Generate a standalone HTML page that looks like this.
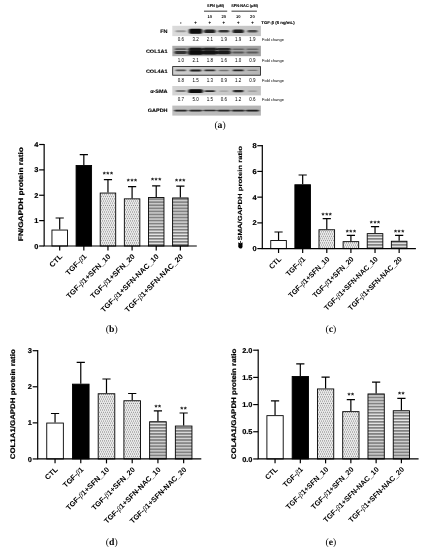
<!DOCTYPE html>
<html><head><meta charset="utf-8"><title>Figure</title>
<style>
html,body{margin:0;padding:0;background:#fff;}
svg{display:block}
text{font-family:"Liberation Sans",sans-serif;fill:#000;text-rendering:geometricPrecision}
.b{font-weight:bold}
.k2{stroke:#000;stroke-width:0.1px}
.n{text-rendering:auto}
.k{stroke:#000;stroke-width:0.22px;stroke-linejoin:round}
.ser{font-family:"Liberation Serif",serif}
</style></head><body>
<svg width="424" height="550" viewBox="0 0 424 550">
<defs>
<pattern id="dots" width="2" height="4.4" patternUnits="userSpaceOnUse"><rect width="2" height="4.4" fill="#ebebeb"/><rect x="0" y="0.3" width="1" height="1.1" fill="#8e8e8e"/><rect x="1" y="2.5" width="1" height="1.1" fill="#8e8e8e"/></pattern>
<pattern id="hs" width="4" height="3.05" patternUnits="userSpaceOnUse"><rect width="4" height="3.05" fill="#e8e8e8"/><rect y="0" width="4" height="1.9" fill="#828282"/></pattern>
<filter id="bl" x="-5%" y="-50%" width="110%" height="200%"><feGaussianBlur stdDeviation="0.9 0.55"/></filter>
</defs>
<rect width="424" height="550" fill="#fff"/>

<g id="pa">
<text class="b k2" transform="translate(215.6 6.9) scale(1.0 1)" font-size="3.9" text-anchor="middle" fill="#000">SFN (μM)</text>
<text class="b k2" transform="translate(244.6 6.9) scale(1.0 1)" font-size="3.9" text-anchor="middle" fill="#000">SFN-NAC (μM)</text>
<rect x="204.0" y="10.7" width="23.2" height="0.9" fill="#222"/>
<rect x="231.5" y="10.7" width="25.4" height="0.9" fill="#222"/>
<text class="b" transform="translate(209.8 17.9) scale(1.0 1)" font-size="4.1" text-anchor="middle" fill="#000">10</text>
<text class="b" transform="translate(223.8 17.9) scale(1.0 1)" font-size="4.1" text-anchor="middle" fill="#000">20</text>
<text class="b" transform="translate(238.2 17.9) scale(1.0 1)" font-size="4.1" text-anchor="middle" fill="#000">10</text>
<text class="b" transform="translate(252.4 17.9) scale(1.0 1)" font-size="4.1" text-anchor="middle" fill="#000">20</text>
<text class="b k2" transform="translate(180.8 23.8) scale(1.0 1)" font-size="4.3" text-anchor="middle" fill="#000">-</text>
<text class="b k2" transform="translate(195.6 23.8) scale(1.0 1)" font-size="4.3" text-anchor="middle" fill="#000">+</text>
<text class="b k2" transform="translate(209.8 23.8) scale(1.0 1)" font-size="4.3" text-anchor="middle" fill="#000">+</text>
<text class="b k2" transform="translate(223.8 23.8) scale(1.0 1)" font-size="4.3" text-anchor="middle" fill="#000">+</text>
<text class="b k2" transform="translate(238.2 23.8) scale(1.0 1)" font-size="4.3" text-anchor="middle" fill="#000">+</text>
<text class="b k2" transform="translate(252.4 23.8) scale(1.0 1)" font-size="4.3" text-anchor="middle" fill="#000">+</text>
<text class="b k2" transform="translate(261.3 23.9) scale(1.08 1)" font-size="4.0" text-anchor="start" fill="#000">TGF-β (5 ng/mL)</text>
<text class="b k2" transform="translate(167.6 33.35) scale(1.1 1)" font-size="5.0" text-anchor="end" fill="#000">FN</text>
<linearGradient id="sg0" x1="0" x2="1" y1="0" y2="0"><stop offset="0" stop-color="#dbdbdb"/><stop offset="1" stop-color="#c2c2c2"/></linearGradient>
<rect x="172.3" y="25.8" width="88.6" height="10.3" fill="url(#sg0)"/>
<clipPath id="cp0"><rect x="172.3" y="25.8" width="88.6" height="10.3"/></clipPath>
<g clip-path="url(#cp0)"><g filter="url(#bl)">
<rect x="175.55" y="30.15" width="10.50" height="2.20" rx="1.10" fill="#080808" opacity="0.3"/>
<rect x="188.90" y="28.85" width="13.40" height="4.80" rx="1.60" fill="#080808" opacity="1.0"/>
<rect x="204.10" y="29.50" width="11.40" height="3.50" rx="1.60" fill="#080808" opacity="0.9"/>
<rect x="218.50" y="29.95" width="10.60" height="2.60" rx="1.30" fill="#080808" opacity="0.75"/>
<rect x="232.60" y="29.50" width="11.20" height="3.50" rx="1.60" fill="#080808" opacity="0.9"/>
<rect x="247.40" y="30.00" width="10.00" height="2.50" rx="1.25" fill="#080808" opacity="0.62"/>
</g></g>
<text class="n" transform="translate(180.8 41.0) scale(1.0 1)" font-size="4.5" text-anchor="middle" fill="#222">0.6</text>
<text class="n" transform="translate(195.6 41.0) scale(1.0 1)" font-size="4.5" text-anchor="middle" fill="#222">3.2</text>
<text class="n" transform="translate(209.8 41.0) scale(1.0 1)" font-size="4.5" text-anchor="middle" fill="#222">2.1</text>
<text class="n" transform="translate(223.8 41.0) scale(1.0 1)" font-size="4.5" text-anchor="middle" fill="#222">1.9</text>
<text class="n" transform="translate(238.2 41.0) scale(1.0 1)" font-size="4.5" text-anchor="middle" fill="#222">1.9</text>
<text class="n" transform="translate(252.4 41.0) scale(1.0 1)" font-size="4.5" text-anchor="middle" fill="#222">1.9</text>
<text class="n" transform="translate(262.0 41.0) scale(1.0 1)" font-size="4.0" text-anchor="start" fill="#222">Fold change</text>
<text class="b k2" transform="translate(167.6 52.8) scale(1.1 1)" font-size="5.0" text-anchor="end" fill="#000">COL1A1</text>
<linearGradient id="sg1" x1="0" x2="1" y1="0" y2="0"><stop offset="0" stop-color="#adadad"/><stop offset="1" stop-color="#a2a2a2"/></linearGradient>
<rect x="172.3" y="45.8" width="88.6" height="10.4" fill="url(#sg1)"/>
<clipPath id="cp1"><rect x="172.3" y="45.8" width="88.6" height="10.4"/></clipPath>
<g clip-path="url(#cp1)"><g filter="url(#bl)">
<rect x="174.80" y="48.30" width="12.00" height="1.80" rx="0.90" fill="#080808" opacity="0.5"/>
<rect x="188.50" y="47.70" width="14.20" height="3.00" rx="1.50" fill="#080808" opacity="0.95"/>
<rect x="202.80" y="47.80" width="14.00" height="2.80" rx="1.40" fill="#080808" opacity="0.9"/>
<rect x="217.10" y="47.95" width="13.40" height="2.50" rx="1.25" fill="#080808" opacity="0.85"/>
<rect x="232.20" y="48.45" width="12.00" height="1.50" rx="0.75" fill="#080808" opacity="0.4"/>
<rect x="246.40" y="48.45" width="12.00" height="1.50" rx="0.75" fill="#080808" opacity="0.36"/>
<rect x="174.55" y="51.10" width="12.50" height="2.80" rx="1.40" fill="#080808" opacity="0.7"/>
<rect x="188.30" y="50.20" width="14.60" height="4.60" rx="1.60" fill="#080808" opacity="1.0"/>
<rect x="202.60" y="50.50" width="14.40" height="4.00" rx="1.60" fill="#080808" opacity="0.97"/>
<rect x="216.90" y="50.80" width="13.80" height="3.40" rx="1.60" fill="#080808" opacity="0.92"/>
<rect x="232.20" y="51.55" width="12.00" height="1.90" rx="0.95" fill="#080808" opacity="0.48"/>
<rect x="246.40" y="51.55" width="12.00" height="1.90" rx="0.95" fill="#080808" opacity="0.45"/>
</g></g>
<text class="n" transform="translate(180.8 61.6) scale(1.0 1)" font-size="4.5" text-anchor="middle" fill="#222">1.0</text>
<text class="n" transform="translate(195.6 61.6) scale(1.0 1)" font-size="4.5" text-anchor="middle" fill="#222">2.1</text>
<text class="n" transform="translate(209.8 61.6) scale(1.0 1)" font-size="4.5" text-anchor="middle" fill="#222">1.8</text>
<text class="n" transform="translate(223.8 61.6) scale(1.0 1)" font-size="4.5" text-anchor="middle" fill="#222">1.6</text>
<text class="n" transform="translate(238.2 61.6) scale(1.0 1)" font-size="4.5" text-anchor="middle" fill="#222">1.0</text>
<text class="n" transform="translate(252.4 61.6) scale(1.0 1)" font-size="4.5" text-anchor="middle" fill="#222">0.9</text>
<text class="n" transform="translate(262.0 61.6) scale(1.0 1)" font-size="4.0" text-anchor="start" fill="#222">Fold change</text>
<text class="b k2" transform="translate(167.6 72.7) scale(1.1 1)" font-size="5.0" text-anchor="end" fill="#000">COL4A1</text>
<linearGradient id="sg2" x1="0" x2="1" y1="0" y2="0"><stop offset="0" stop-color="#cfcfcf"/><stop offset="1" stop-color="#b6b6b6"/></linearGradient>
<rect x="172.3" y="66.2" width="88.6" height="9.4" fill="url(#sg2)"/>
<clipPath id="cp2"><rect x="172.3" y="66.2" width="88.6" height="9.4"/></clipPath>
<g clip-path="url(#cp2)"><g filter="url(#bl)">
<rect x="175.55" y="69.60" width="10.50" height="1.60" rx="0.80" fill="#080808" opacity="0.6"/>
<rect x="189.85" y="69.40" width="11.50" height="2.00" rx="1.00" fill="#080808" opacity="0.9"/>
<rect x="204.30" y="69.55" width="11.00" height="1.70" rx="0.85" fill="#080808" opacity="0.75"/>
<rect x="218.80" y="69.65" width="10.00" height="1.50" rx="0.75" fill="#080808" opacity="0.4"/>
<rect x="232.70" y="69.50" width="11.00" height="1.80" rx="0.90" fill="#080808" opacity="0.8"/>
<rect x="247.40" y="69.70" width="10.00" height="1.40" rx="0.70" fill="#080808" opacity="0.36"/>
</g></g>
<rect x="172.70000000000002" y="66.60000000000001" width="87.8" height="8.6" fill="none" stroke="#1a1a1a" stroke-width="0.8"/>
<text class="n" transform="translate(180.8 81.9) scale(1.0 1)" font-size="4.5" text-anchor="middle" fill="#222">0.8</text>
<text class="n" transform="translate(195.6 81.9) scale(1.0 1)" font-size="4.5" text-anchor="middle" fill="#222">1.5</text>
<text class="n" transform="translate(209.8 81.9) scale(1.0 1)" font-size="4.5" text-anchor="middle" fill="#222">1.3</text>
<text class="n" transform="translate(223.8 81.9) scale(1.0 1)" font-size="4.5" text-anchor="middle" fill="#222">0.9</text>
<text class="n" transform="translate(238.2 81.9) scale(1.0 1)" font-size="4.5" text-anchor="middle" fill="#222">1.2</text>
<text class="n" transform="translate(252.4 81.9) scale(1.0 1)" font-size="4.5" text-anchor="middle" fill="#222">0.9</text>
<text class="n" transform="translate(262.0 81.9) scale(1.0 1)" font-size="4.0" text-anchor="start" fill="#222">Fold change</text>
<text class="b k2" transform="translate(167.6 92.5) scale(1.1 1)" font-size="5.0" text-anchor="end" fill="#000">α-SMA</text>
<linearGradient id="sg3" x1="0" x2="1" y1="0" y2="0"><stop offset="0" stop-color="#d4d4d4"/><stop offset="1" stop-color="#c2c2c2"/></linearGradient>
<rect x="172.3" y="86.0" width="88.6" height="9.4" fill="url(#sg3)"/>
<clipPath id="cp3"><rect x="172.3" y="86.0" width="88.6" height="9.4"/></clipPath>
<g clip-path="url(#cp3)"><g filter="url(#bl)">
<rect x="175.80" y="90.35" width="10.00" height="1.50" rx="0.75" fill="#080808" opacity="0.6"/>
<rect x="188.30" y="89.20" width="14.60" height="3.80" rx="1.60" fill="#080808" opacity="1.0"/>
<rect x="204.55" y="90.15" width="10.50" height="1.90" rx="0.95" fill="#080808" opacity="0.8"/>
<rect x="219.30" y="90.40" width="9.00" height="1.40" rx="0.70" fill="#080808" opacity="0.22"/>
<rect x="232.95" y="90.00" width="10.50" height="2.20" rx="1.10" fill="#080808" opacity="0.85"/>
<rect x="247.90" y="90.40" width="9.00" height="1.40" rx="0.70" fill="#080808" opacity="0.25"/>
</g></g>
<text class="n" transform="translate(180.8 100.7) scale(1.0 1)" font-size="4.5" text-anchor="middle" fill="#222">0.7</text>
<text class="n" transform="translate(195.6 100.7) scale(1.0 1)" font-size="4.5" text-anchor="middle" fill="#222">5.0</text>
<text class="n" transform="translate(209.8 100.7) scale(1.0 1)" font-size="4.5" text-anchor="middle" fill="#222">1.5</text>
<text class="n" transform="translate(223.8 100.7) scale(1.0 1)" font-size="4.5" text-anchor="middle" fill="#222">0.6</text>
<text class="n" transform="translate(238.2 100.7) scale(1.0 1)" font-size="4.5" text-anchor="middle" fill="#222">1.2</text>
<text class="n" transform="translate(252.4 100.7) scale(1.0 1)" font-size="4.5" text-anchor="middle" fill="#222">0.6</text>
<text class="n" transform="translate(262.0 100.7) scale(1.0 1)" font-size="4.0" text-anchor="start" fill="#222">Fold change</text>
<text class="b k2" transform="translate(167.6 112.4) scale(1.1 1)" font-size="5.0" text-anchor="end" fill="#000">GAPDH</text>
<linearGradient id="sg4" x1="0" x2="1" y1="0" y2="0"><stop offset="0" stop-color="#c0c0c0"/><stop offset="1" stop-color="#b4b4b4"/></linearGradient>
<rect x="172.3" y="105.6" width="88.6" height="10.0" fill="url(#sg4)"/>
<clipPath id="cp4"><rect x="172.3" y="105.6" width="88.6" height="10.0"/></clipPath>
<g clip-path="url(#cp4)"><g filter="url(#bl)">
<rect x="174.30" y="109.80" width="13.00" height="1.60" rx="0.80" fill="#080808" opacity="0.85"/>
<rect x="189.10" y="109.80" width="13.00" height="1.60" rx="0.80" fill="#080808" opacity="0.85"/>
<rect x="203.30" y="109.85" width="13.00" height="1.50" rx="0.75" fill="#080808" opacity="0.82"/>
<rect x="217.30" y="109.80" width="13.00" height="1.60" rx="0.80" fill="#080808" opacity="0.85"/>
<rect x="231.70" y="109.75" width="13.00" height="1.70" rx="0.85" fill="#080808" opacity="0.88"/>
<rect x="245.90" y="109.70" width="13.00" height="1.80" rx="0.90" fill="#080808" opacity="0.9"/>
</g></g>
<text class="ser" x="220" y="127.9" font-size="9.6" text-anchor="middle">(<tspan font-weight="bold">a</tspan>)</text>
</g>
<g id="pb">
<path d="M59.70 229.60V218.00M55.60 218.00H63.80" stroke="#000" stroke-width="1.2" fill="none"/>
<rect x="51.95" y="230.05" width="15.50" height="15.95" fill="#fff" stroke="#000" stroke-width="0.9"/>
<path d="M59.70 246.00v4.4" stroke="#000" stroke-width="1.2"/>
<text class="b" transform="translate(62.90 257.00) rotate(-45) scale(1.065 1)" font-size="7.3" text-anchor="end">CTL</text>
<path d="M83.83 165.00V154.60M79.73 154.60H87.93" stroke="#000" stroke-width="1.2" fill="none"/>
<rect x="76.08" y="165.45" width="15.50" height="80.55" fill="#000" stroke="#000" stroke-width="0.9"/>
<path d="M83.83 246.00v4.4" stroke="#000" stroke-width="1.2"/>
<text class="b" transform="translate(87.03 257.00) rotate(-45) scale(1.065 1)" font-size="7.3" text-anchor="end">TGF-<tspan class="ser" font-weight="normal" font-style="italic">β</tspan>1</text>
<path d="M107.96 192.60V179.70M103.86 179.70H112.06" stroke="#000" stroke-width="1.2" fill="none"/>
<rect x="100.21" y="193.05" width="15.50" height="52.95" fill="url(#dots)" stroke="#000" stroke-width="0.9"/>
<path d="M107.96 246.00v4.4" stroke="#000" stroke-width="1.2"/>
<text class="b" x="108.16" y="177.20" font-size="7.8" letter-spacing="0.6" text-anchor="middle">***</text>
<text class="b" transform="translate(111.16 257.00) rotate(-45) scale(1.065 1)" font-size="7.3" text-anchor="end">TGF-<tspan class="ser" font-weight="normal" font-style="italic">β</tspan>1+SFN_10</text>
<path d="M132.09 198.40V186.60M127.99 186.60H136.19" stroke="#000" stroke-width="1.2" fill="none"/>
<rect x="124.34" y="198.85" width="15.50" height="47.15" fill="url(#dots)" stroke="#000" stroke-width="0.9"/>
<path d="M132.09 246.00v4.4" stroke="#000" stroke-width="1.2"/>
<text class="b" x="132.29" y="184.10" font-size="7.8" letter-spacing="0.6" text-anchor="middle">***</text>
<text class="b" transform="translate(135.29 257.00) rotate(-45) scale(1.065 1)" font-size="7.3" text-anchor="end">TGF-<tspan class="ser" font-weight="normal" font-style="italic">β</tspan>1+SFN_20</text>
<path d="M156.22 197.10V185.90M152.12 185.90H160.32" stroke="#000" stroke-width="1.2" fill="none"/>
<rect x="148.47" y="197.55" width="15.50" height="48.45" fill="url(#hs)" stroke="#000" stroke-width="0.9"/>
<path d="M156.22 246.00v4.4" stroke="#000" stroke-width="1.2"/>
<text class="b" x="156.42" y="183.40" font-size="7.8" letter-spacing="0.6" text-anchor="middle">***</text>
<text class="b" transform="translate(159.42 257.00) rotate(-45) scale(1.065 1)" font-size="7.3" text-anchor="end">TGF-<tspan class="ser" font-weight="normal" font-style="italic">β</tspan>1+SFN-NAC_10</text>
<path d="M180.35 197.50V186.10M176.25 186.10H184.45" stroke="#000" stroke-width="1.2" fill="none"/>
<rect x="172.60" y="197.95" width="15.50" height="48.05" fill="url(#hs)" stroke="#000" stroke-width="0.9"/>
<path d="M180.35 246.00v4.4" stroke="#000" stroke-width="1.2"/>
<text class="b" x="180.55" y="183.60" font-size="7.8" letter-spacing="0.6" text-anchor="middle">***</text>
<text class="b" transform="translate(183.55 257.00) rotate(-45) scale(1.065 1)" font-size="7.3" text-anchor="end">TGF-<tspan class="ser" font-weight="normal" font-style="italic">β</tspan>1+SFN-NAC_20</text>
<path d="M44.15 143.90V246.60M43.55 246.00H196.80" stroke="#000" stroke-width="1.2" fill="none"/>
<path d="M44.15 246.00h-5.0" stroke="#000" stroke-width="1.2"/>
<text class="b k" transform="translate(38.45 248.55) scale(1.06 1)" font-size="7.0" text-anchor="end">0</text>
<path d="M44.15 220.62h-5.0" stroke="#000" stroke-width="1.2"/>
<text class="b k" transform="translate(38.45 223.18) scale(1.06 1)" font-size="7.0" text-anchor="end">1</text>
<path d="M44.15 195.25h-5.0" stroke="#000" stroke-width="1.2"/>
<text class="b k" transform="translate(38.45 197.80) scale(1.06 1)" font-size="7.0" text-anchor="end">2</text>
<path d="M44.15 169.88h-5.0" stroke="#000" stroke-width="1.2"/>
<text class="b k" transform="translate(38.45 172.43) scale(1.06 1)" font-size="7.0" text-anchor="end">3</text>
<path d="M44.15 144.50h-5.0" stroke="#000" stroke-width="1.2"/>
<text class="b k" transform="translate(38.45 147.05) scale(1.06 1)" font-size="7.0" text-anchor="end">4</text>
<text class="b k" transform="translate(23.20 194.20) rotate(-90) scale(1.24 1)" font-size="6.7" text-anchor="middle">FN/GAPDH protein ratio</text>
<text class="ser" x="111.7" y="332.3" font-size="9.7" text-anchor="middle">(<tspan font-weight="bold">b</tspan>)</text>
</g>
<g id="pc">
<path d="M278.55 240.10V232.00M274.45 232.00H282.65" stroke="#000" stroke-width="1.2" fill="none"/>
<rect x="270.75" y="240.55" width="15.60" height="8.05" fill="#fff" stroke="#000" stroke-width="0.9"/>
<path d="M278.55 248.60v4.4" stroke="#000" stroke-width="1.2"/>
<text class="b" transform="translate(281.75 259.60) rotate(-45) scale(0.98 1)" font-size="7.3" text-anchor="end">CTL</text>
<path d="M302.67 184.30V175.00M298.57 175.00H306.77" stroke="#000" stroke-width="1.2" fill="none"/>
<rect x="294.87" y="184.75" width="15.60" height="63.85" fill="#000" stroke="#000" stroke-width="0.9"/>
<path d="M302.67 248.60v4.4" stroke="#000" stroke-width="1.2"/>
<text class="b" transform="translate(305.87 259.60) rotate(-45) scale(0.98 1)" font-size="7.3" text-anchor="end">TGF-<tspan class="ser" font-weight="normal" font-style="italic">β</tspan>1</text>
<path d="M326.79 229.30V218.70M322.69 218.70H330.89" stroke="#000" stroke-width="1.2" fill="none"/>
<rect x="318.99" y="229.75" width="15.60" height="18.85" fill="url(#dots)" stroke="#000" stroke-width="0.9"/>
<path d="M326.79 248.60v4.4" stroke="#000" stroke-width="1.2"/>
<text class="b" x="326.99" y="218.20" font-size="7.8" letter-spacing="0.6" text-anchor="middle">***</text>
<text class="b" transform="translate(329.99 259.60) rotate(-45) scale(0.98 1)" font-size="7.3" text-anchor="end">TGF-<tspan class="ser" font-weight="normal" font-style="italic">β</tspan>1+SFN_10</text>
<path d="M350.91 241.20V235.40M346.81 235.40H355.01" stroke="#000" stroke-width="1.2" fill="none"/>
<rect x="343.11" y="241.65" width="15.60" height="6.95" fill="url(#dots)" stroke="#000" stroke-width="0.9"/>
<path d="M350.91 248.60v4.4" stroke="#000" stroke-width="1.2"/>
<text class="b" x="351.11" y="234.90" font-size="7.8" letter-spacing="0.6" text-anchor="middle">***</text>
<text class="b" transform="translate(354.11 259.60) rotate(-45) scale(0.98 1)" font-size="7.3" text-anchor="end">TGF-<tspan class="ser" font-weight="normal" font-style="italic">β</tspan>1+SFN_20</text>
<path d="M375.03 233.20V226.70M370.93 226.70H379.13" stroke="#000" stroke-width="1.2" fill="none"/>
<rect x="367.23" y="233.65" width="15.60" height="14.95" fill="url(#hs)" stroke="#000" stroke-width="0.9"/>
<path d="M375.03 248.60v4.4" stroke="#000" stroke-width="1.2"/>
<text class="b" x="375.23" y="226.20" font-size="7.8" letter-spacing="0.6" text-anchor="middle">***</text>
<text class="b" transform="translate(378.23 259.60) rotate(-45) scale(0.98 1)" font-size="7.3" text-anchor="end">TGF-<tspan class="ser" font-weight="normal" font-style="italic">β</tspan>1+SFN-NAC_10</text>
<path d="M399.15 240.80V235.40M395.05 235.40H403.25" stroke="#000" stroke-width="1.2" fill="none"/>
<rect x="391.35" y="241.25" width="15.60" height="7.35" fill="url(#hs)" stroke="#000" stroke-width="0.9"/>
<path d="M399.15 248.60v4.4" stroke="#000" stroke-width="1.2"/>
<text class="b" x="399.35" y="234.90" font-size="7.8" letter-spacing="0.6" text-anchor="middle">***</text>
<text class="b" transform="translate(402.35 259.60) rotate(-45) scale(0.98 1)" font-size="7.3" text-anchor="end">TGF-<tspan class="ser" font-weight="normal" font-style="italic">β</tspan>1+SFN-NAC_20</text>
<path d="M262.30 145.10V249.20M261.70 248.60H415.90" stroke="#000" stroke-width="1.2" fill="none"/>
<path d="M262.30 248.60h-5.0" stroke="#000" stroke-width="1.2"/>
<text class="b k" transform="translate(256.60 251.15) scale(1.06 1)" font-size="7.0" text-anchor="end">0</text>
<path d="M262.30 222.88h-5.0" stroke="#000" stroke-width="1.2"/>
<text class="b k" transform="translate(256.60 225.43) scale(1.06 1)" font-size="7.0" text-anchor="end">2</text>
<path d="M262.30 197.15h-5.0" stroke="#000" stroke-width="1.2"/>
<text class="b k" transform="translate(256.60 199.70) scale(1.06 1)" font-size="7.0" text-anchor="end">4</text>
<path d="M262.30 171.42h-5.0" stroke="#000" stroke-width="1.2"/>
<text class="b k" transform="translate(256.60 173.97) scale(1.06 1)" font-size="7.0" text-anchor="end">6</text>
<path d="M262.30 145.70h-5.0" stroke="#000" stroke-width="1.2"/>
<text class="b k" transform="translate(256.60 148.25) scale(1.06 1)" font-size="7.0" text-anchor="end">8</text>
<text class="b k2" transform="translate(241.70 197.00) rotate(-90) scale(1.29 1)" font-size="6.0" text-anchor="middle"><tspan stroke="#000" stroke-width="1.1">α</tspan>-SMA/GAPDH protein ratio</text>
<text class="ser" x="330.9" y="332.4" font-size="9.7" text-anchor="middle">(<tspan font-weight="bold">c</tspan>)</text>
</g>
<g id="pd">
<path d="M55.05 422.60V413.50M50.95 413.50H59.15" stroke="#000" stroke-width="1.2" fill="none"/>
<rect x="46.75" y="423.05" width="16.60" height="35.90" fill="#fff" stroke="#000" stroke-width="0.9"/>
<path d="M55.05 458.95v4.4" stroke="#000" stroke-width="1.2"/>
<text class="b" transform="translate(58.25 469.95) rotate(-45) scale(1.035 1)" font-size="7.3" text-anchor="end">CTL</text>
<path d="M80.77 383.70V362.30M76.67 362.30H84.87" stroke="#000" stroke-width="1.2" fill="none"/>
<rect x="72.47" y="384.15" width="16.60" height="74.80" fill="#000" stroke="#000" stroke-width="0.9"/>
<path d="M80.77 458.95v4.4" stroke="#000" stroke-width="1.2"/>
<text class="b" transform="translate(83.97 469.95) rotate(-45) scale(1.035 1)" font-size="7.3" text-anchor="end">TGF-<tspan class="ser" font-weight="normal" font-style="italic">β</tspan>1</text>
<path d="M106.49 393.30V379.00M102.39 379.00H110.59" stroke="#000" stroke-width="1.2" fill="none"/>
<rect x="98.19" y="393.75" width="16.60" height="65.20" fill="url(#dots)" stroke="#000" stroke-width="0.9"/>
<path d="M106.49 458.95v4.4" stroke="#000" stroke-width="1.2"/>
<text class="b" transform="translate(109.69 469.95) rotate(-45) scale(1.035 1)" font-size="7.3" text-anchor="end">TGF-<tspan class="ser" font-weight="normal" font-style="italic">β</tspan>1+SFN_10</text>
<path d="M132.21 400.30V393.50M128.11 393.50H136.31" stroke="#000" stroke-width="1.2" fill="none"/>
<rect x="123.91" y="400.75" width="16.60" height="58.20" fill="url(#dots)" stroke="#000" stroke-width="0.9"/>
<path d="M132.21 458.95v4.4" stroke="#000" stroke-width="1.2"/>
<text class="b" transform="translate(135.41 469.95) rotate(-45) scale(1.035 1)" font-size="7.3" text-anchor="end">TGF-<tspan class="ser" font-weight="normal" font-style="italic">β</tspan>1+SFN_20</text>
<path d="M157.93 421.30V410.80M153.83 410.80H162.03" stroke="#000" stroke-width="1.2" fill="none"/>
<rect x="149.63" y="421.75" width="16.60" height="37.20" fill="url(#hs)" stroke="#000" stroke-width="0.9"/>
<path d="M157.93 458.95v4.4" stroke="#000" stroke-width="1.2"/>
<text class="b" x="158.13" y="409.60" font-size="7.8" letter-spacing="0.6" text-anchor="middle">**</text>
<text class="b" transform="translate(161.13 469.95) rotate(-45) scale(1.035 1)" font-size="7.3" text-anchor="end">TGF-<tspan class="ser" font-weight="normal" font-style="italic">β</tspan>1+SFN-NAC_10</text>
<path d="M183.65 425.60V413.00M179.55 413.00H187.75" stroke="#000" stroke-width="1.2" fill="none"/>
<rect x="175.35" y="426.05" width="16.60" height="32.90" fill="url(#hs)" stroke="#000" stroke-width="0.9"/>
<path d="M183.65 458.95v4.4" stroke="#000" stroke-width="1.2"/>
<text class="b" x="183.85" y="411.80" font-size="7.8" letter-spacing="0.6" text-anchor="middle">**</text>
<text class="b" transform="translate(186.85 469.95) rotate(-45) scale(1.035 1)" font-size="7.3" text-anchor="end">TGF-<tspan class="ser" font-weight="normal" font-style="italic">β</tspan>1+SFN-NAC_20</text>
<path d="M37.70 350.10V459.55M37.10 458.95H201.30" stroke="#000" stroke-width="1.2" fill="none"/>
<path d="M37.70 458.95h-5.0" stroke="#000" stroke-width="1.2"/>
<text class="b k" transform="translate(32.00 461.50) scale(1.06 1)" font-size="7.0" text-anchor="end">0</text>
<path d="M37.70 422.87h-5.0" stroke="#000" stroke-width="1.2"/>
<text class="b k" transform="translate(32.00 425.42) scale(1.06 1)" font-size="7.0" text-anchor="end">1</text>
<path d="M37.70 386.78h-5.0" stroke="#000" stroke-width="1.2"/>
<text class="b k" transform="translate(32.00 389.33) scale(1.06 1)" font-size="7.0" text-anchor="end">2</text>
<path d="M37.70 350.70h-5.0" stroke="#000" stroke-width="1.2"/>
<text class="b k" transform="translate(32.00 353.25) scale(1.06 1)" font-size="7.0" text-anchor="end">3</text>
<text class="b k" transform="translate(14.90 404.30) rotate(-90) scale(1.18 1)" font-size="6.7" text-anchor="middle">COL1A1/GAPDH protein ratio</text>
<text class="ser" x="111.7" y="545" font-size="9.7" text-anchor="middle">(<tspan font-weight="bold">d</tspan>)</text>
</g>
<g id="pe">
<path d="M275.05 415.20V400.80M270.95 400.80H279.15" stroke="#000" stroke-width="1.2" fill="none"/>
<rect x="266.90" y="415.65" width="16.30" height="43.30" fill="#fff" stroke="#000" stroke-width="0.9"/>
<path d="M275.05 458.95v4.4" stroke="#000" stroke-width="1.2"/>
<text class="b" transform="translate(278.25 469.95) rotate(-45) scale(1.013 1)" font-size="7.3" text-anchor="end">CTL</text>
<path d="M300.32 376.00V363.90M296.22 363.90H304.42" stroke="#000" stroke-width="1.2" fill="none"/>
<rect x="292.17" y="376.45" width="16.30" height="82.50" fill="#000" stroke="#000" stroke-width="0.9"/>
<path d="M300.32 458.95v4.4" stroke="#000" stroke-width="1.2"/>
<text class="b" transform="translate(303.52 469.95) rotate(-45) scale(1.013 1)" font-size="7.3" text-anchor="end">TGF-<tspan class="ser" font-weight="normal" font-style="italic">β</tspan>1</text>
<path d="M325.59 388.50V377.20M321.49 377.20H329.69" stroke="#000" stroke-width="1.2" fill="none"/>
<rect x="317.44" y="388.95" width="16.30" height="70.00" fill="url(#dots)" stroke="#000" stroke-width="0.9"/>
<path d="M325.59 458.95v4.4" stroke="#000" stroke-width="1.2"/>
<text class="b" transform="translate(328.79 469.95) rotate(-45) scale(1.013 1)" font-size="7.3" text-anchor="end">TGF-<tspan class="ser" font-weight="normal" font-style="italic">β</tspan>1+SFN_10</text>
<path d="M350.86 411.20V399.65M346.76 399.65H354.96" stroke="#000" stroke-width="1.2" fill="none"/>
<rect x="342.71" y="411.65" width="16.30" height="47.30" fill="url(#dots)" stroke="#000" stroke-width="0.9"/>
<path d="M350.86 458.95v4.4" stroke="#000" stroke-width="1.2"/>
<text class="b" x="351.06" y="398.25" font-size="7.8" letter-spacing="0.6" text-anchor="middle">**</text>
<text class="b" transform="translate(354.06 469.95) rotate(-45) scale(1.013 1)" font-size="7.3" text-anchor="end">TGF-<tspan class="ser" font-weight="normal" font-style="italic">β</tspan>1+SFN_20</text>
<path d="M376.13 393.50V382.10M372.03 382.10H380.23" stroke="#000" stroke-width="1.2" fill="none"/>
<rect x="367.98" y="393.95" width="16.30" height="65.00" fill="url(#hs)" stroke="#000" stroke-width="0.9"/>
<path d="M376.13 458.95v4.4" stroke="#000" stroke-width="1.2"/>
<text class="b" transform="translate(379.33 469.95) rotate(-45) scale(1.013 1)" font-size="7.3" text-anchor="end">TGF-<tspan class="ser" font-weight="normal" font-style="italic">β</tspan>1+SFN-NAC_10</text>
<path d="M401.40 410.30V398.40M397.30 398.40H405.50" stroke="#000" stroke-width="1.2" fill="none"/>
<rect x="393.25" y="410.75" width="16.30" height="48.20" fill="url(#hs)" stroke="#000" stroke-width="0.9"/>
<path d="M401.40 458.95v4.4" stroke="#000" stroke-width="1.2"/>
<text class="b" x="401.60" y="397.00" font-size="7.8" letter-spacing="0.6" text-anchor="middle">**</text>
<text class="b" transform="translate(404.60 469.95) rotate(-45) scale(1.013 1)" font-size="7.3" text-anchor="end">TGF-<tspan class="ser" font-weight="normal" font-style="italic">β</tspan>1+SFN-NAC_20</text>
<path d="M258.20 349.60V459.55M257.60 458.95H418.60" stroke="#000" stroke-width="1.2" fill="none"/>
<path d="M258.20 458.95h-5.0" stroke="#000" stroke-width="1.2"/>
<text class="b k" transform="translate(252.50 461.50) scale(1.06 1)" font-size="7.0" text-anchor="end">0.0</text>
<path d="M258.20 431.76h-5.0" stroke="#000" stroke-width="1.2"/>
<text class="b k" transform="translate(252.50 434.31) scale(1.06 1)" font-size="7.0" text-anchor="end">0.5</text>
<path d="M258.20 404.57h-5.0" stroke="#000" stroke-width="1.2"/>
<text class="b k" transform="translate(252.50 407.12) scale(1.06 1)" font-size="7.0" text-anchor="end">1.0</text>
<path d="M258.20 377.39h-5.0" stroke="#000" stroke-width="1.2"/>
<text class="b k" transform="translate(252.50 379.94) scale(1.06 1)" font-size="7.0" text-anchor="end">1.5</text>
<path d="M258.20 350.20h-5.0" stroke="#000" stroke-width="1.2"/>
<text class="b k" transform="translate(252.50 352.75) scale(1.06 1)" font-size="7.0" text-anchor="end">2.0</text>
<text class="b k" transform="translate(235.90 404.00) rotate(-90) scale(1.185 1)" font-size="6.7" text-anchor="middle">COL4A1/GAPDH protein ratio</text>
<text class="ser" x="330.9" y="545" font-size="9.7" text-anchor="middle">(<tspan font-weight="bold">e</tspan>)</text>
</g>
</svg></body></html>
